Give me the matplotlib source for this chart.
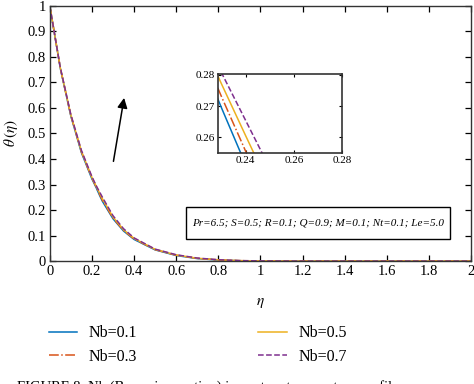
import matplotlib
matplotlib.use("Agg")
import matplotlib.pyplot as plt
from matplotlib.patches import Rectangle

plt.rcParams['font.family'] = ['Liberation Serif', 'DejaVu Serif']
plt.rcParams['mathtext.fontset'] = 'stix'

# data
eta = [0, 0.05, 0.1, 0.15, 0.2, 0.22, 0.23, 0.24, 0.25, 0.3, 0.35, 0.4,
       0.5, 0.6, 0.7, 0.8, 0.9, 1.0, 1.2, 1.4, 1.6, 1.8, 2.0]
theta_nb01 = [1.0, 0.755, 0.568, 0.425, 0.322, 0.288, 0.2693, 0.2511, 0.234, 0.166, 0.118, 0.085,
              0.044, 0.022, 0.010, 0.004, 0.0015, 0.0005, 0, 0, 0, 0, 0]
theta_nb03 = [1.0, 0.756, 0.570, 0.428, 0.325, 0.291, 0.2729, 0.2554, 0.238, 0.169, 0.120, 0.087,
              0.045, 0.023, 0.011, 0.0045, 0.0017, 0.0006, 0, 0, 0, 0, 0]
theta_nb05 = [1.0, 0.757, 0.572, 0.431, 0.328, 0.294, 0.2770, 0.2604, 0.244, 0.173, 0.123, 0.089,
              0.046, 0.024, 0.011, 0.005, 0.0019, 0.0007, 0, 0, 0, 0, 0]
theta_nb07 = [1.0, 0.758, 0.574, 0.434, 0.331, 0.296, 0.2806, 0.2653, 0.250, 0.178, 0.127, 0.091,
              0.047, 0.025, 0.012, 0.0055, 0.0021, 0.0008, 0, 0, 0, 0, 0]

series = [
    ("Nb=0.1", theta_nb01, '#0072BD', '-'),
    ("Nb=0.3", theta_nb03, '#D95319', '-.'),
    ("Nb=0.5", theta_nb05, '#EDB120', '-'),
    ("Nb=0.7", theta_nb07, '#7E2F8E', '--'),
]

fig = plt.figure(figsize=(4.74, 3.84), dpi=100)
ax = fig.add_axes([0.105, 0.320, 0.889, 0.665])

for name, th, c, ls in series:
    ax.plot(eta, th, color=c, linestyle=ls, linewidth=1.1, label=name)

ax.set_xlim(0, 2)
ax.set_ylim(0, 1)
ax.set_xticks([0, 0.2, 0.4, 0.6, 0.8, 1, 1.2, 1.4, 1.6, 1.8, 2])
ax.set_xticklabels(['0', '0.2', '0.4', '0.6', '0.8', '1', '1.2', '1.4', '1.6', '1.8', '2'])
ax.set_yticks([0, 0.1, 0.2, 0.3, 0.4, 0.5, 0.6, 0.7, 0.8, 0.9, 1])
ax.set_yticklabels(['0', '0.1', '0.2', '0.3', '0.4', '0.5', '0.6', '0.7', '0.8', '0.9', '1'])
ax.tick_params(direction='in', top=True, right=True, length=4, width=0.9,
               labelsize=10.5, pad=3)
for s in ax.spines.values():
    s.set_linewidth(1.0)
    s.set_color('#333333')
ax.set_xlabel(r'$\eta$', fontsize=11, labelpad=13)
ax.set_ylabel(r'$\theta\,(\eta)$', fontsize=11, labelpad=5)

# arrow showing increase of Nb
ax.annotate('', xy=(0.355, 0.65), xytext=(0.30, 0.38),
            arrowprops=dict(arrowstyle='-|>', color='black', lw=1.1,
                            mutation_scale=15))

# parameter box
ax.add_patch(Rectangle((0.647, 0.086), 1.253, 0.1255, fill=False,
                       edgecolor='black', linewidth=1.0))
ax.text(1.273, 0.149, 'Pr=6.5; S=0.5; R=0.1; Q=0.9; M=0.1; Nt=0.1; Le=5.0',
        fontsize=8, style='italic', ha='center', va='center')

# inset
axin = fig.add_axes([0.460, 0.6016, 0.2616, 0.2057])
for name, th, c, ls in series:
    axin.plot(eta, th, color=c, linestyle=ls, linewidth=1.1)
axin.set_xlim(0.2285, 0.28)
axin.set_ylim(0.2549, 0.2803)
axin.set_xticks([0.24, 0.26, 0.28])
axin.set_xticklabels(['0.24', '0.26', '0.28'])
axin.set_yticks([0.26, 0.27, 0.28])
axin.set_yticklabels(['0.26', '0.27', '0.28'])
axin.tick_params(direction='in', top=True, right=True, length=2.5, width=0.8,
                 labelsize=8, pad=2)
for s in axin.spines.values():
    s.set_linewidth(1.2)
    s.set_color('#333333')

fig.legend(loc='upper left', bbox_to_anchor=(0.072, 0.19), ncol=2, frameon=False,
           fontsize=11.5, handlelength=1.8, handletextpad=0.7, columnspacing=7.6,
           labelspacing=0.45)

fig.text(0.036, 0.011, 'FIGURE 8: Nb (Brownian motion) impact on temperature profile.',
         fontsize=10.5, va='top', ha='left')

fig.savefig('out.png', dpi=100)
